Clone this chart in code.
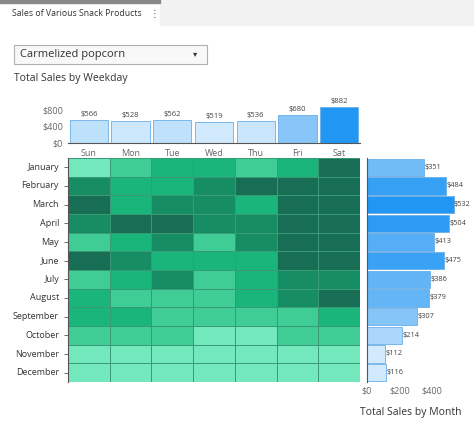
import numpy as np, pandas as pd, seaborn as sns
import matplotlib.pyplot as plt
from matplotlib.colors import ListedColormap, LinearSegmentedColormap, BoundaryNorm
from matplotlib.patches import Rectangle

sns.set_style("white")
plt.rcParams['font.family'] = ['Open Sans', 'DejaVu Sans']

days = ["Sun", "Mon", "Tue", "Wed", "Thu", "Fri", "Sat"]
day_sales = [566, 528, 562, 519, 536, 680, 882]
months = ["January", "February", "March", "April", "May", "June", "July",
          "August", "September", "October", "November", "December"]
month_sales = [351, 484, 532, 504, 413, 475, 386, 379, 307, 214, 112, 116]
cell_sales = [
    [10, 30, 50, 50, 30, 50, 90],
    [70, 50, 50, 70, 90, 90, 90],
    [90, 50, 70, 70, 50, 90, 90],
    [70, 90, 90, 70, 70, 90, 90],
    [30, 50, 70, 30, 70, 90, 90],
    [90, 70, 50, 50, 50, 90, 90],
    [30, 50, 70, 30, 50, 70, 70],
    [50, 30, 30, 30, 50, 70, 90],
    [50, 50, 30, 30, 30, 30, 50],
    [30, 30, 30, 10, 10, 30, 30],
    [10, 10, 10, 10, 10, 10, 10],
    [10, 10, 10, 10, 10, 10, 10],
]

fig = plt.figure(figsize=(4.74, 4.23), dpi=100)
W, H = 474, 423
def ax_px(x0, y0, x1, y1):
    return fig.add_axes([x0 / W, 1 - y1 / H, (x1 - x0) / W, (y1 - y0) / H])

fig.patches.append(Rectangle((0, 1 - 25 / H), 160 / W, 25 / H, transform=fig.transFigure,
                             color='white', zorder=0))
fig.patches.append(Rectangle((160 / W, 1 - 25 / H), 314 / W, 25 / H, transform=fig.transFigure,
                             color='#f2f2f2', zorder=0))
fig.patches.append(Rectangle((0, 1 - 3 / H), 160 / W, 3 / H, transform=fig.transFigure,
                             color='#888888', zorder=1))
fig.text(12 / W, 1 - 14 / H, "Sales of Various Snack Products", fontsize=6.3, va='center', color='#333333')
fig.text(150 / W, 1 - 14 / H, "⋮", fontsize=7, va='center', color='#555555')
fig.patches.append(Rectangle((14 / W, 1 - 64 / H), 193 / W, 19 / H, transform=fig.transFigure,
                             facecolor='#f8f8f8', edgecolor='#b0b0b0', lw=0.8))
fig.text(20 / W, 1 - 54.5 / H, "Carmelized popcorn", fontsize=8, va='center', color='#333333')
fig.text(193 / W, 1 - 54.5 / H, "▾", fontsize=6, va='center', color='#333333')
fig.text(14 / W, 1 - 79 / H, "Total Sales by Weekday", fontsize=7.5, va='center', color='#333333')

bcmap = LinearSegmentedColormap.from_list("b", ["#d2eafc", "#9fd1fa", "#5fb3f6", "#2196f3"])
def bc(v, lo, hi):
    return bcmap(float(min(1.0, max(0.0, (v - lo) / (hi - lo)))))

ax1 = ax_px(68, 95, 360, 143)
dcol = [bc(v, 515, 880) for v in day_sales]
sns.barplot(x=days, y=day_sales, hue=days, palette=dcol, legend=False, ax=ax1,
            width=0.92, edgecolor='#6aaee6', linewidth=0.6, saturation=1)
for i, v in enumerate(day_sales):
    ax1.text(i, v + 40, f"${v}", ha='center', va='bottom', fontsize=5.5, color='#444444')
ax1.set_ylim(0, 1160)
ax1.set_yticks([0, 400, 800], ["$0", "$400", "$800"])
ax1.set_xlim(-0.5, 6.5)
ax1.set_xticks(range(7), days)
ax1.tick_params(axis='both', labelsize=6.5, colors='#666666', length=3, width=0.6)
ax1.tick_params(axis='y', length=0)
ax1.tick_params(axis='x', direction='out', pad=1)
for s in ['top', 'right', 'left']:
    ax1.spines[s].set_visible(False)
ax1.spines['bottom'].set_color('#555555')
ax1.set_xlabel(""); ax1.set_ylabel("")

ax2 = ax_px(68, 158, 360, 382)
cmap = ListedColormap(["#74e8bd", "#40cc95", "#19b57a", "#178d64", "#176e55"])
norm = BoundaryNorm([0, 20, 40, 60, 80, 100], 5)
df = pd.DataFrame(cell_sales, index=months, columns=days)
sns.heatmap(df, cmap=cmap, norm=norm, cbar=False, ax=ax2, linewidths=0.6,
            linecolor='#3a9a76')
ax2.set_xticks([]); ax2.set_xlabel(""); ax2.set_ylabel("")
ax2.tick_params(axis='y', labelsize=6.5, colors='#555555', length=3, width=0.6, left=True, rotation=0)
for lab in ax2.get_yticklabels():
    lab.set_color('#333333')
ax2.spines['left'].set_visible(True)
ax2.spines['left'].set_color('#555555')

ax3 = ax_px(367, 158, 455, 382)
mcol = [bc(v, 110, 532) for v in month_sales]
sns.barplot(y=months, x=month_sales, hue=months, palette=mcol, legend=False, ax=ax3,
            orient='h', width=0.92, edgecolor='#6aaee6', linewidth=0.6, saturation=1)
for i, v in enumerate(month_sales):
    ax3.text(v + 2, i, f"${v}", va='center', ha='left', fontsize=5.3, color='#444444')
ax3.set_xlim(0, 540)
ax3.set_ylim(11.5, -0.5)
ax3.set_yticks([])
ax3.set_xticks([0, 200, 400], ["$0", "$200", "$400"])
ax3.tick_params(axis='x', labelsize=6.5, colors='#666666', length=0)
for s in ['top', 'right', 'bottom']:
    ax3.spines[s].set_visible(False)
ax3.spines['left'].set_color('#555555')
ax3.set_xlabel("Total Sales by Month", fontsize=7.5, color='#333333', labelpad=8)
ax3.set_ylabel("")

fig.savefig("out.png", dpi=100)
